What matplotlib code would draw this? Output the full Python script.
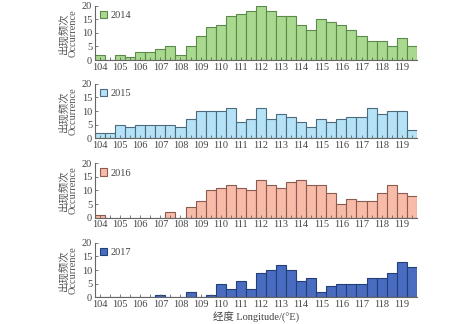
import matplotlib
matplotlib.use("Agg")
import matplotlib.pyplot as plt
import numpy as np
from matplotlib.patches import Patch

plt.rcParams['font.family'] = ['Liberation Serif', 'Noto Sans CJK SC']

centers = np.arange(104, 120, 0.5)
tick_labels = [str(v) for v in range(104, 120)]

y2014 = [2, 0, 2, 1, 3, 3, 4, 5, 2, 5, 9, 12, 13, 16, 17, 18,
         20, 18, 16, 16, 13, 11, 15, 14, 13, 11, 9, 7, 7, 5, 8, 5]
y2015 = [2, 2, 5, 4, 5, 5, 5, 5, 4, 7, 10, 10, 10, 11, 6, 7,
         11, 7, 9, 8, 6, 4, 7, 6, 7, 8, 8, 11, 9, 10, 10, 3]
y2016 = [1, 0, 0, 0, 0, 0, 0, 2, 0, 4, 6, 10, 11, 12, 11, 10,
         14, 12, 11, 13, 14, 12, 12, 9, 5, 7, 6, 6, 9, 12, 9, 8]
y2017 = [0, 0, 0, 0, 0, 0, 1, 0, 0, 2, 0, 1, 5, 3, 6, 3,
         9, 10, 12, 10, 6, 7, 2, 4, 5, 5, 5, 7, 7, 9, 13, 11]

series = [
    ("2014", y2014, "#a9d98e", "#5b8a4c"),
    ("2015", y2015, "#b5e2f6", "#4d6b7e"),
    ("2016", y2016, "#f7bba8", "#8c5a50"),
    ("2017", y2017, "#4a6cc0", "#233f78"),
]

fig = plt.figure(figsize=(4.74, 3.24), dpi=100)
left, width, height = 0.2004, 0.679, 0.168
bottoms = [0.8148, 0.5731, 0.3281, 0.0824]
txt = "#444444"
for (lab, vals, fc, ec), b in zip(series, bottoms):
    ax = fig.add_axes([left, b, width, height])
    ax.bar(centers, vals, width=0.5, color=fc, edgecolor=ec, linewidth=0.8)
    ax.set_xlim(103.75, 119.75)
    ax.set_ylim(0, 20)
    ax.set_yticks([0, 5, 10, 15, 20])
    ax.set_xticks(range(104, 120))
    ax.set_xticklabels(tick_labels)
    ax.set_xticks(centers, minor=True)
    for s in ['top', 'right']:
        ax.spines[s].set_visible(False)
    for s in ['left', 'bottom']:
        ax.spines[s].set_color("#666666")
        ax.spines[s].set_linewidth(0.8)
    ax.tick_params(axis='both', which='both', direction='in', length=2,
                   width=0.6, colors="#666666", labelsize=7.5,
                   labelcolor=txt, pad=2)
    ax.set_ylabel("出现频次\nOccurrence", fontsize=7.5, color="#555555",
                  labelpad=3, linespacing=1.0)
    ax.legend(handles=[Patch(facecolor=fc, edgecolor=ec, linewidth=0.8)],
              labels=[lab], loc='upper left', frameon=False, fontsize=7.5,
              handlelength=0.7, handleheight=0.7, handletextpad=0.3,
              borderaxespad=0.1, labelcolor=txt)
    if lab == "2017":
        ax.set_xlabel("经度 Longitude/(°E)", fontsize=7.5, color=txt, labelpad=2)

fig.savefig("out.png", dpi=100)
